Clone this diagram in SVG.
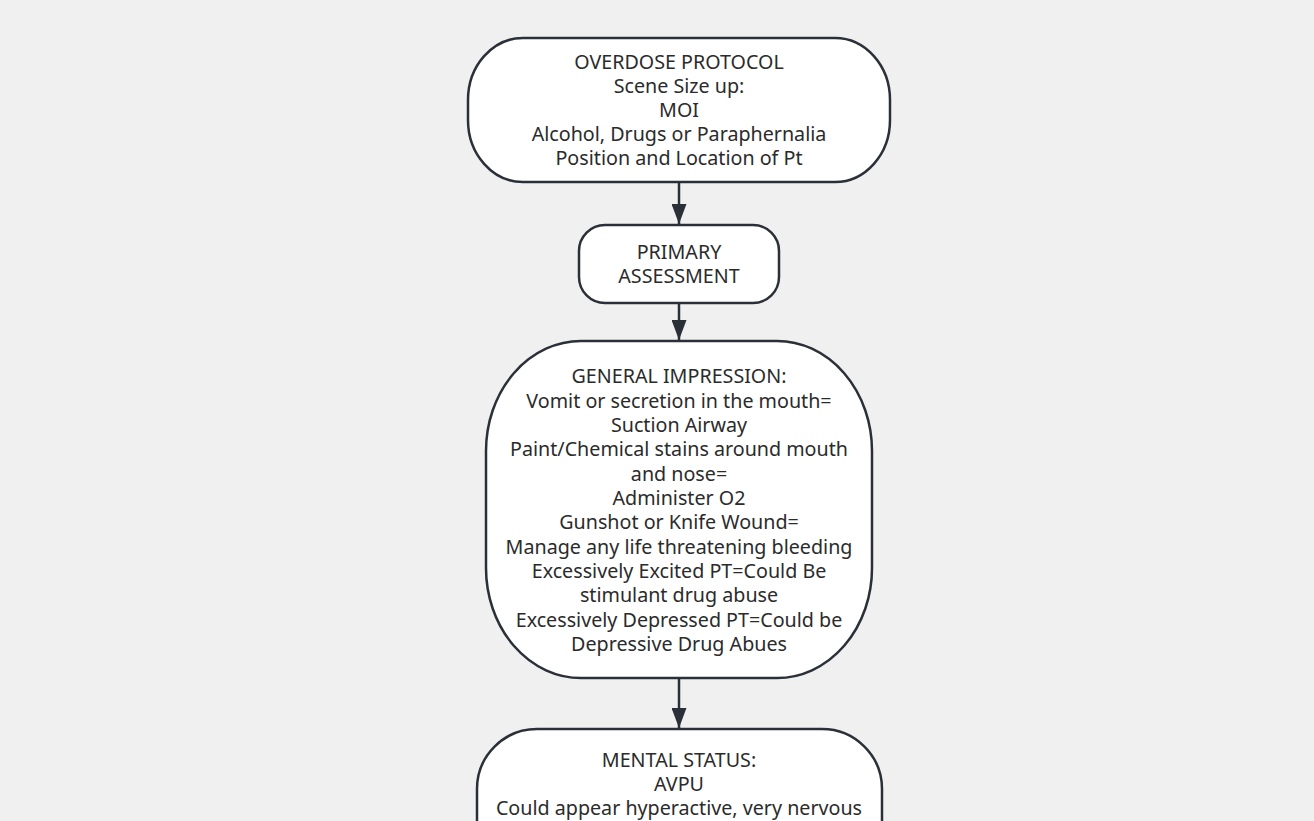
<svg xmlns="http://www.w3.org/2000/svg" width="1314" height="821" viewBox="0 0 1314 821">
<style>
.bg{fill:#f0f0f0}
.node{fill:#ffffff;stroke:#2b3038;stroke-width:2.5}
.t{font-family:"Noto Sans","Open Sans",sans-serif;font-size:19.7px;fill:#2b2b2b;text-anchor:middle}
.edge{stroke:#2b3038;stroke-width:2.5;fill:none}
</style>
<defs>
<marker id="arr" viewBox="0 0 20 15" refX="20" refY="7.5" markerWidth="20" markerHeight="15" markerUnits="userSpaceOnUse" orient="auto">
<path d="M0,0 L20,7.5 L0,15 Z" fill="#2b3038"/>
</marker>
</defs>
<rect class="bg" x="0" y="0" width="1314" height="821"/>
<g id="connectors">
<line class="edge" x1="679" y1="183" x2="679" y2="224" marker-end="url(#arr)"/>
<line class="edge" x1="679" y1="304" x2="679" y2="340" marker-end="url(#arr)"/>
<line class="edge" x1="679" y1="679" x2="679" y2="728" marker-end="url(#arr)"/>
</g>
<g id="n1">
<rect class="node" x="468" y="38" width="422" height="144" rx="55" ry="62"/>
<text class="t" x="679" y="69">OVERDOSE PROTOCOL</text>
<text class="t" x="679" y="93">Scene Size up:</text>
<text class="t" x="679" y="117">MOI</text>
<text class="t" x="679" y="141">Alcohol, Drugs or Paraphernalia</text>
<text class="t" x="679" y="165">Position and Location of Pt</text>
</g>
<g id="n2">
<rect class="node" x="579" y="225" width="200" height="78" rx="26" ry="26"/>
<text class="t" x="679" y="259">PRIMARY</text>
<text class="t" x="679" y="283">ASSESSMENT</text>
</g>
<g id="n3">
<rect class="node" x="486" y="341" width="386" height="337" rx="95" ry="110"/>
<text class="t" x="679" y="383">GENERAL IMPRESSION:</text>
<text class="t" x="679" y="407.5">Vomit or secretion in the mouth=</text>
<text class="t" x="679" y="432">Suction Airway</text>
<text class="t" x="679" y="456">Paint/Chemical stains around mouth</text>
<text class="t" x="679" y="480.5">and nose=</text>
<text class="t" x="679" y="505">Administer O2</text>
<text class="t" x="679" y="529">Gunshot or Knife Wound=</text>
<text class="t" x="679" y="553.5">Manage any life threatening bleeding</text>
<text class="t" x="679" y="578">Excessively Excited PT=Could Be</text>
<text class="t" x="679" y="602">stimulant drug abuse</text>
<text class="t" x="679" y="626.5">Excessively Depressed PT=Could be</text>
<text class="t" x="679" y="651">Depressive Drug Abues</text>
</g>
<g id="n4">
<rect class="node" x="477" y="729" width="405" height="200" rx="60" ry="60"/>
<text class="t" x="679" y="767">MENTAL STATUS:</text>
<text class="t" x="679" y="791">AVPU</text>
<text class="t" x="679" y="815">Could appear hyperactive, very nervous</text>
</g>
</svg>
